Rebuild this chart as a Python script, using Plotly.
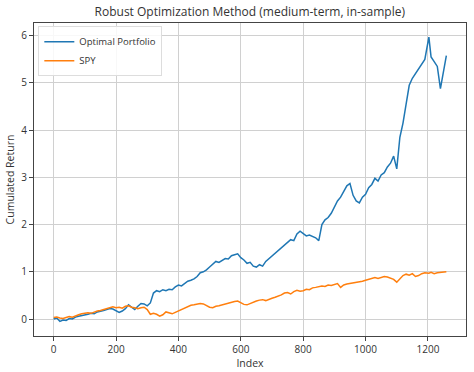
import plotly.graph_objects as go

idx = [0, 10, 20, 30, 40, 50, 60, 70, 80, 90, 100, 110, 120, 130, 140, 150, 160, 170, 180, 190,
       200, 210, 220, 230, 240, 250, 260, 270, 280, 290, 300, 310, 320, 330, 340, 350, 360, 370, 380, 390,
       400, 410, 420, 430, 440, 450, 460, 470, 480, 490, 500, 510, 520, 530, 540, 550, 560, 570, 580, 590,
       600, 610, 620, 630, 640, 650, 660, 670, 680, 690, 700, 710, 720, 730, 740, 750, 760, 770, 780, 790,
       800, 810, 820, 830, 840, 850, 860, 870, 880, 890, 900, 910, 920, 930, 940, 950, 960, 970, 980, 990,
       1000, 1010, 1020, 1030, 1040, 1050, 1060, 1070, 1080, 1090, 1100, 1110, 1120, 1130, 1140, 1150, 1160, 1170, 1180, 1190,
       1203, 1210, 1220, 1230, 1240, 1250, 1259]

optimal = [0.00, 0.02, -0.05, -0.02, -0.03, 0.01, 0.00, 0.04, 0.06, 0.07, 0.09, 0.10, 0.12, 0.11, 0.15, 0.16, 0.18, 0.20, 0.22, 0.21,
           0.18, 0.14, 0.17, 0.22, 0.30, 0.24, 0.20, 0.27, 0.33, 0.32, 0.28, 0.34, 0.55, 0.60, 0.58, 0.62, 0.60, 0.63, 0.62, 0.68,
           0.72, 0.70, 0.75, 0.80, 0.82, 0.85, 0.90, 0.98, 1.00, 1.04, 1.10, 1.15, 1.22, 1.20, 1.24, 1.28, 1.27, 1.34, 1.36, 1.38,
           1.30, 1.25, 1.18, 1.20, 1.12, 1.10, 1.15, 1.12, 1.22, 1.28, 1.32, 1.38, 1.44, 1.50, 1.58, 1.62, 1.68, 1.66, 1.80, 1.86,
           1.80, 1.76, 1.78, 1.75, 1.72, 1.66, 2.00, 2.10, 2.15, 2.24, 2.38, 2.50, 2.58, 2.70, 2.82, 2.87, 2.62, 2.50, 2.46, 2.58,
           2.64, 2.78, 2.85, 2.98, 2.92, 3.05, 3.10, 3.22, 3.30, 3.45, 3.18, 3.85, 4.15, 4.55, 4.95, 5.10, 5.20, 5.30, 5.40, 5.50,
           5.97, 5.55, 5.45, 5.35, 4.88, 5.30, 5.58]

spy = [0.03, 0.04, 0.02, 0.01, 0.03, 0.05, 0.04, 0.07, 0.09, 0.11, 0.12, 0.13, 0.12, 0.15, 0.17, 0.18, 0.20, 0.22, 0.25, 0.26,
       0.24, 0.25, 0.23, 0.27, 0.28, 0.25, 0.24, 0.22, 0.24, 0.25, 0.20, 0.10, 0.12, 0.10, 0.06, 0.09, 0.15, 0.13, 0.11, 0.14,
       0.17, 0.20, 0.22, 0.25, 0.29, 0.30, 0.32, 0.33, 0.32, 0.29, 0.25, 0.24, 0.27, 0.28, 0.30, 0.31, 0.33, 0.35, 0.37, 0.38,
       0.35, 0.31, 0.30, 0.33, 0.35, 0.38, 0.40, 0.41, 0.39, 0.42, 0.44, 0.46, 0.48, 0.51, 0.55, 0.56, 0.53, 0.58, 0.61, 0.59,
       0.60, 0.63, 0.62, 0.66, 0.67, 0.68, 0.70, 0.69, 0.72, 0.71, 0.73, 0.75, 0.67, 0.72, 0.74, 0.75, 0.76, 0.77, 0.78, 0.80,
       0.82, 0.84, 0.87, 0.88, 0.86, 0.88, 0.90, 0.89, 0.86, 0.84, 0.78, 0.86, 0.92, 0.95, 0.93, 0.96, 0.90, 0.92, 0.96, 0.98,
       0.97, 0.99, 0.96, 0.98, 0.99, 1.00, 1.00]

x_ticks = [0, 200, 400, 600, 800, 1000, 1200]
y_ticks = [0, 1, 2, 3, 4, 5, 6]

font = "Open Sans"
fig = go.Figure()
fig.add_trace(go.Scatter(x=idx, y=optimal, mode="lines", name="Optimal Portfolio",
                         line=dict(color="#1f77b4", width=1.5)))
fig.add_trace(go.Scatter(x=idx, y=spy, mode="lines", name="SPY",
                         line=dict(color="#ff7f0e", width=1.5)))

axis_common = dict(showgrid=True, gridcolor="#d0d0d0", gridwidth=1, zeroline=False,
                   showline=True, linecolor="#444444", linewidth=1, mirror=True,
                   ticks="outside", ticklen=4, tickcolor="#444444", automargin=False,
                   tickfont=dict(family=font, size=10, color="#333333"))

fig.update_layout(
    width=474, height=372,
    margin=dict(l=34, r=8, t=23, b=36, autoexpand=False),
    paper_bgcolor="white", plot_bgcolor="white",
    font=dict(family=font, size=10, color="#333333"),
    title=dict(text="Robust Optimization Method (medium-term, in-sample)", x=0.527, xanchor="center",
               y=0.968, yanchor="middle", automargin=False,
               font=dict(family=font, size=12, color="#333333")),
    xaxis=dict(range=[-63, 1322], tickvals=x_ticks,
               title=dict(text="Index", standoff=4, font=dict(family=font, size=10.5)), **axis_common),
    yaxis=dict(range=[-0.36, 6.27], tickvals=y_ticks,
               title=dict(text="Cumulated Return", standoff=4, font=dict(family=font, size=10.5)), **axis_common),
    legend=dict(x=0.01, y=0.99, xanchor="left", yanchor="top", bgcolor="rgba(255,255,255,0.85)",
                bordercolor="#dddddd", borderwidth=1, font=dict(family=font, size=9.5, color="#333333"),
                itemwidth=30, tracegroupgap=0),
    showlegend=True,
)
fig.write_html("out.html", config={"displayModeBar": False},
               post_script="document.body.style.margin='0';document.body.style.overflow='hidden';")
